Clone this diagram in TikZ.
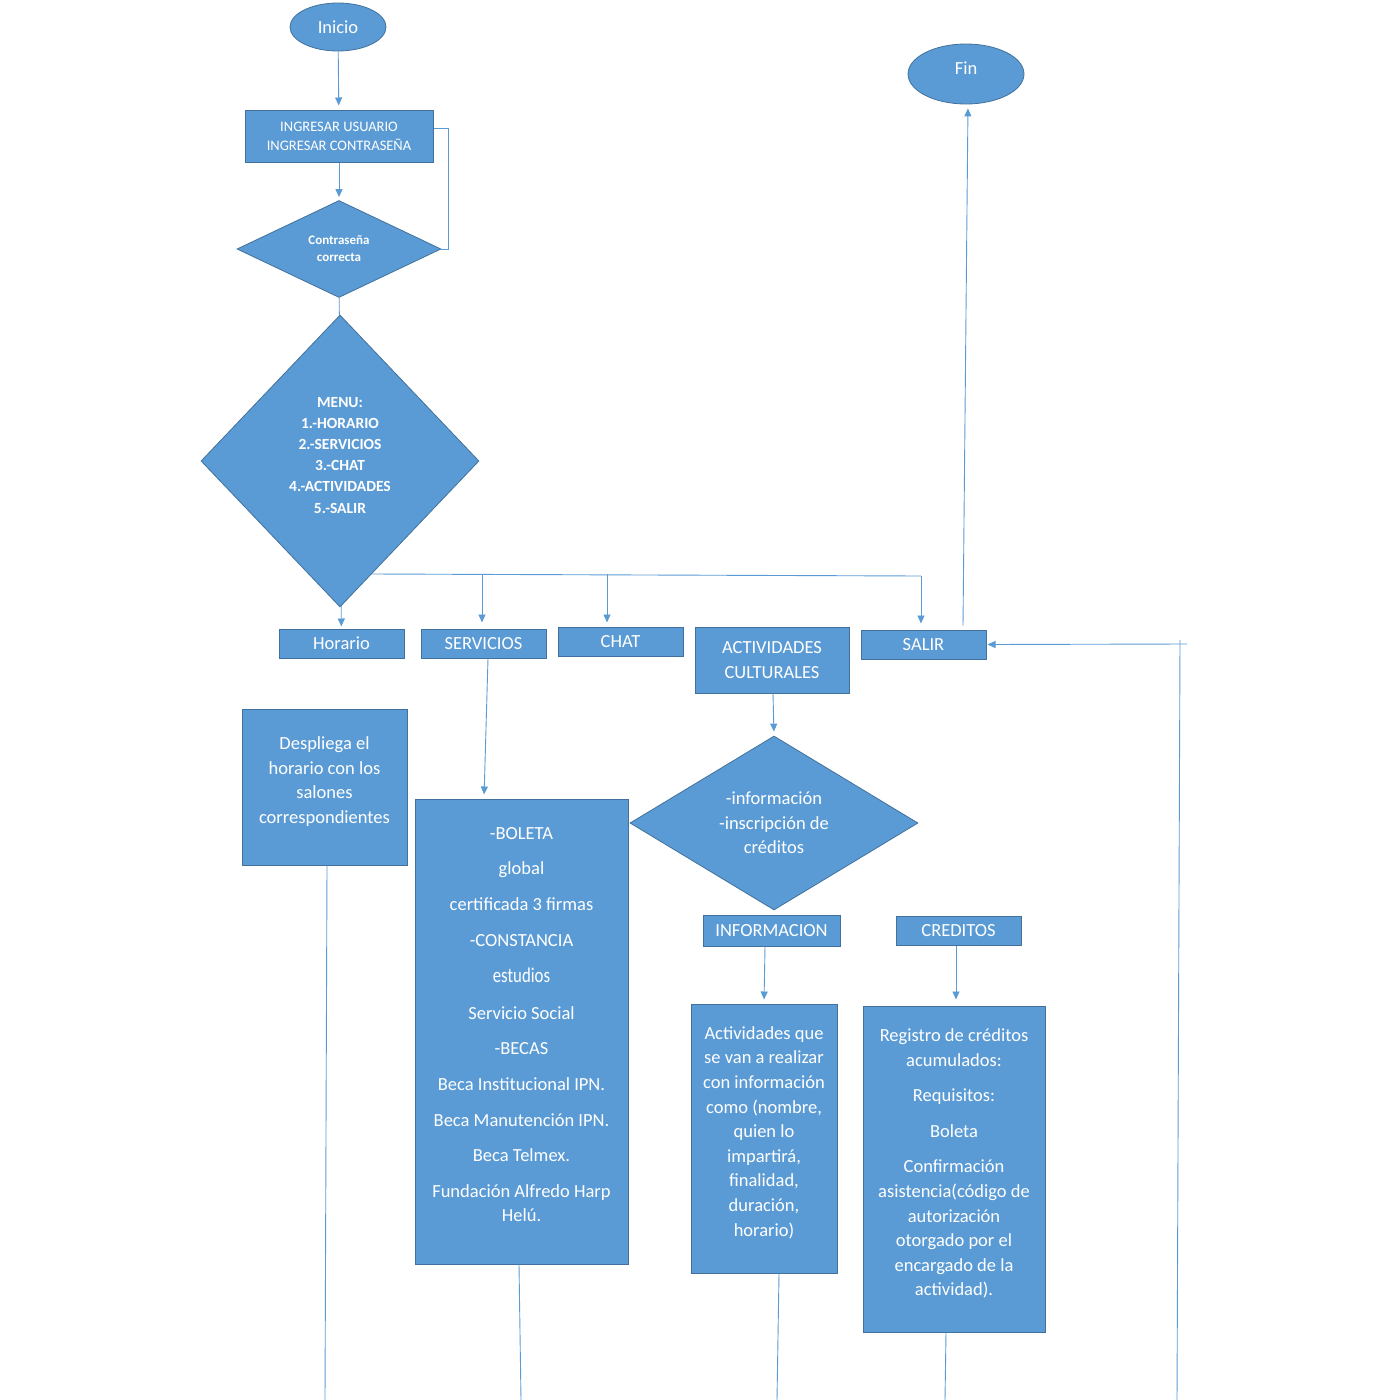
\documentclass[tikz,border=0pt]{standalone}
\usepackage{fontspec}
\setmainfont{Carlito}
\usetikzlibrary{shapes.geometric,arrows.meta}

\definecolor{azul}{HTML}{5B9BD5}
\definecolor{borde}{HTML}{41719C}

\tikzset{
	caja/.style={rectangle, draw=borde, fill=azul, text=white, line width=1pt, inner sep=0pt, align=center},
	rombo/.style={diamond, draw=borde, fill=azul, text=white, line width=0.8pt, inner sep=0pt, align=center},
	elipse/.style={ellipse, draw=borde, fill=azul, text=white, line width=0.8pt, inner sep=0pt},
	linea/.style={draw=azul, line width=0.9pt},
	flecha/.style={linea, -{Triangle[length=8pt,width=7pt]}},
	grande/.style={font=\fontsize{18.5}{24.6}\selectfont},
}

\begin{document}
\begin{tikzpicture}[x=1pt, y=-1pt]

	\useasboundingbox (0,0) rectangle (1374,1400);

	%inicio y fin
	\node [elipse, minimum width=96pt, minimum height=48pt, grande] (inicio) at (338,27) {Inicio};
	\node [elipse, minimum width=116pt, minimum height=60pt, grande, text depth=12pt] (fin) at (966,74) {Fin};

	%acceso
	\node [caja, minimum width=188pt, minimum height=52pt, font=\fontsize{14.5}{19}\selectfont] (ingresar) at (339,136)
		{INGRESAR USUARIO\\INGRESAR CONTRASEÑA};
	\node [rombo, minimum width=204pt, minimum height=97pt, shape aspect=2, font=\bfseries\fontsize{13}{17}\selectfont] (contra) at (339,249)
		{Contraseña\\correcta};

	%menu
	\node [rombo, minimum width=278pt, minimum height=292pt, text depth=12pt, font=\bfseries\fontsize{15.5}{21.2}\selectfont] (menu) at (340,461)
		{MENU:\\1.-HORARIO\\2.-SERVICIOS\\3.-CHAT\\4.-ACTIVIDADES\\5.-SALIR};

	%opciones
	\foreach \n/\x/\y/\t in {horario/341.5/643.5/Horario, servicios/483.5/643.5/SERVICIOS, chat/620.5/641.5/CHAT, salir/923.5/644.5/SALIR}
	{
		\node [caja, minimum width=125pt, minimum height=29pt, grande] (\n) at (\x,\y) {\t};
	}
	\node [caja, minimum width=154pt, minimum height=66pt, grande] (actividades) at (772,660) {ACTIVIDADES\\CULTURALES};

	%detalles
	\node [caja, minimum width=165pt, minimum height=156pt, grande, text depth=13.5pt] (despliega) at (324.5,787)
		{Despliega el\\horario con los\\salones\\correspondientes};
	\node [caja, minimum width=213pt, minimum height=465pt, grande, text depth=14pt] (servdet) at (521.5,1031.5)
		{-BOLETA\\[11pt] global\\[11pt] certificada 3 firmas\\[11pt] -CONSTANCIA\\[12pt]
		{\fontsize{21}{24.6}\selectfont\addfontfeature{FakeStretch=0.8}estudios}\\[12pt] Servicio Social\\[11pt] -BECAS\\[11pt]
		Beca Institucional IPN.\\[11pt] Beca Manutención IPN.\\[11pt] Beca Telmex.\\[11pt]
		Fundación Alfredo Harp\\ Helú.};
	\node [rombo, minimum width=288pt, minimum height=174pt, shape aspect=1.65, grande] (info) at (774,823)
		{-información\\-inscripción de\\créditos};
	\node [caja, minimum width=137pt, minimum height=31pt, grande] (informacion) at (771.5,930.5) {INFORMACION};
	\node [caja, minimum width=125pt, minimum height=29pt, grande] (creditos) at (958.5,930.5) {CREDITOS};
	\node [caja, minimum width=146pt, minimum height=269pt, grande, text depth=14.5pt] (actdet) at (764,1138.5)
		{Actividades que\\se van a realizar\\con información\\como (nombre,\\quien lo\\impartirá,\\finalidad,\\duración,\\horario)};
	\node [caja, minimum width=182pt, minimum height=326pt, grande, text depth=13.5pt] (registro) at (954,1169)
		{Registro de créditos\\acumulados:\\[11pt] Requisitos:\\[11pt] Boleta\\[11pt] Confirmación\\asistencia(código de\\autorización\\otorgado por el\\encargado de la\\actividad).};

	%puntos auxiliares
	\coordinate (retorno) at (448,249);
	\coordinate (bus-ini) at (372,574);
	\coordinate (bus-fin) at (921,576);
	\coordinate (der-arriba) at (1180,640);
	\coordinate (der-abajo) at (1177,1400);
	\coordinate (der-punta) at (1187,644);
	\coordinate (h-fin) at (325,1400);
	\coordinate (s-fin) at (521,1400);
	\coordinate (a-fin) at (777,1400);
	\coordinate (r-fin) at (945,1400);

	%flechas
	\draw [flecha, shorten >=4pt] (inicio) -- (ingresar);
	\draw [flecha, shorten >=3pt] (ingresar) -- (contra);
	\draw [linea] ([yshift=8pt]ingresar.east) -| (retorno) -- (contra.east);
	\draw [linea] (contra) -- (menu);
	\draw [flecha, shorten >=2pt] (menu) -- (horario);
	\draw [linea] (bus-ini) -- (bus-fin);
	\draw [flecha, shorten >=6pt] ([xshift=-1.5pt]servicios.north |- bus-ini) -- ([xshift=-1.5pt]servicios.north);
	\draw [flecha, shorten >=4pt] ([xshift=-13.5pt]chat.north |- bus-ini) -- ([xshift=-13.5pt]chat.north);
	\draw [flecha, shorten >=6pt] (bus-fin) -- (salir.north -| bus-fin);
	\draw [flecha, shorten >=4pt] ([xshift=39.5pt,yshift=4pt]salir.north) -- ([xshift=2pt]fin.south);
	\draw [linea] (der-arriba) -- (der-abajo);
	\draw [flecha, shorten >=1pt] (der-punta) -- (salir.east);
	\draw [flecha, shorten >=4pt] ([xshift=4.5pt]servicios.south) -- ([xshift=-37.5pt]servdet.north);
	\draw [flecha, shorten >=4pt] ([xshift=1pt]actividades.south) -- (info.north);
	\draw [flecha, shorten >=4pt] ([xshift=-6.5pt]informacion.south) -- (actdet.north);
	\draw [flecha, shorten >=6pt] ([xshift=-2.5pt]creditos.south) -- ([xshift=2pt]registro.north);

	%lineas hacia abajo
	\draw [linea] ([xshift=2.5pt]despliega.south) -- (h-fin);
	\draw [linea] ([xshift=-2.5pt]servdet.south) -- (s-fin);
	\draw [linea] ([xshift=15pt]actdet.south) -- (a-fin);
	\draw [linea] ([xshift=-8pt]registro.south) -- (r-fin);

\end{tikzpicture}
\end{document}
